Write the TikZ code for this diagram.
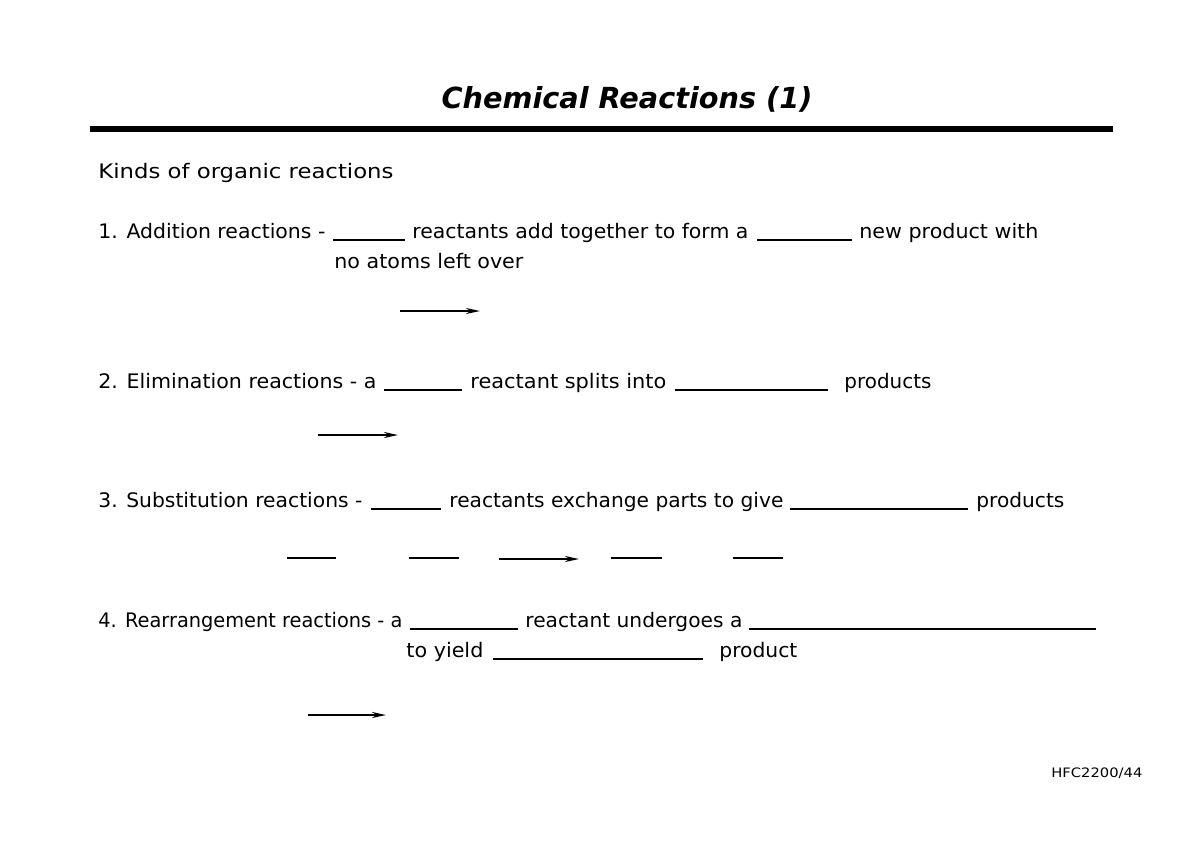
\documentclass[tikz,border=0pt]{standalone}
\usepackage{fontspec}
\setmainfont{DejaVu Sans}
\usetikzlibrary{arrows.meta}
\newcommand{\fitw}[2]{\resizebox{#1\dimexpr0.5pt\relax}{\height}{#2}}
\begin{document}
\begin{tikzpicture}[x=0.5pt,y=-0.5pt,
  txt/.style={anchor=base west,inner sep=0pt,font=\fontsize{10}{12}\selectfont},
  blank/.style={line width=0.6pt},
  rx/.style={line width=1.1pt,-{Stealth[length=7pt,width=3pt]}},
  seg/.style={line width=1.1pt}]
\useasboundingbox (0,0) rectangle (1200,848);
\node[anchor=base,inner sep=0pt,font=\fontsize{14.5}{16}\selectfont\bfseries\itshape] (title) at (627,108) {\fitw{371}{Chemical Reactions (1)}};
\draw[line width=3pt] (90,129) coordinate (r1) -- (1113,129) coordinate (r2);
\node[txt] (kinds) at (98,178) {\fitw{295}{Kinds of organic reactions}};
% 1
\node[txt] (a1) at (98,238) {\fitw{227}{1. Addition reactions -}};
\draw[blank] (333,240) coordinate (b1a) -- (405,240) coordinate (b1b);
\node[txt] (a2) at (412,238) {\fitw{336}{reactants add together to form a}};
\draw[blank] (757,240) coordinate (b2a) -- (852,240) coordinate (b2b);
\node[txt] (a3) at (859,238) {\fitw{179}{new product with}};
\node[txt] (a4) at (334,268) {\fitw{189}{no atoms left over}};
\draw[rx] (400,311) coordinate (ar1a) -- (480,311) coordinate (ar1b);
% 2
\node[txt] (e1) at (98,388) {\fitw{278}{2. Elimination reactions - a}};
\draw[blank] (384,390) coordinate (b3a) -- (462,390) coordinate (b3b);
\node[txt] (e2) at (470,388) {\fitw{196}{reactant splits into}};
\draw[blank] (675,390) coordinate (b4a) -- (828,390) coordinate (b4b);
\node[txt] (e3) at (844,388) {\fitw{87}{products}};
\draw[rx] (318,435) coordinate (ar2a) -- (398,435) coordinate (ar2b);
% 3
\node[txt] (s1) at (98,507) {\fitw{264}{3. Substitution reactions -}};
\draw[blank] (371,509) coordinate (b5a) -- (441,509) coordinate (b5b);
\node[txt] (s2) at (449,507) {\fitw{334}{reactants exchange parts to give}};
\draw[blank] (790,509) coordinate (b6a) -- (968,509) coordinate (b6b);
\node[txt] (s3) at (976,507) {\fitw{88}{products}};
\draw[seg] (287,558) coordinate (l1a) -- (336,558) coordinate (l1b);
\draw[seg] (409,558) coordinate (l2a) -- (459,558) coordinate (l2b);
\draw[rx] (499,559) coordinate (ar3a) -- (579,559) coordinate (ar3b);
\draw[seg] (611,558) coordinate (l3a) -- (662,558) coordinate (l3b);
\draw[seg] (733,558) coordinate (l4a) -- (783,558) coordinate (l4b);
% 4
\node[txt] (r1t) at (98,627) {\fitw{304}{4. Rearrangement reactions - a}};
\draw[blank] (410,629) coordinate (b7a) -- (518,629) coordinate (b7b);
\node[txt] (r2t) at (525,627) {\fitw{217}{reactant undergoes a}};
\draw[blank] (749,629) coordinate (b8a) -- (1096,629) coordinate (b8b);
\node[txt] (r3t) at (406,657) {\fitw{77}{to yield}};
\draw[blank] (493,659) coordinate (b9a) -- (703,659) coordinate (b9b);
\node[txt] (r4t) at (719,657) {\fitw{78}{product}};
\draw[rx] (308,715) coordinate (ar4a) -- (386,715) coordinate (ar4b);
\node[txt,font=\fontsize{6.5}{8}\selectfont] (foot) at (1051,777) {\fitw{91}{HFC2200/44}};
\end{tikzpicture}
\end{document}
